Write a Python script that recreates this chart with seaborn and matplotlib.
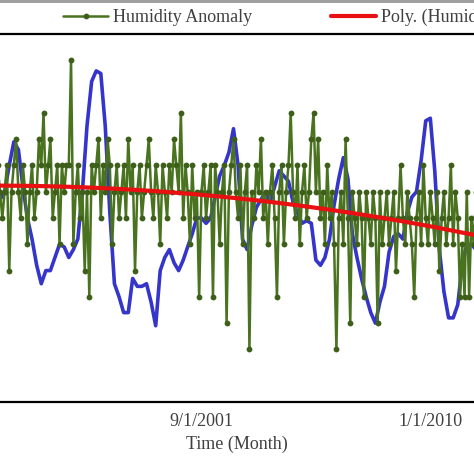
import numpy as np
import pandas as pd
import matplotlib
matplotlib.use('Agg')
import matplotlib.pyplot as plt
import matplotlib.patches as patches
import seaborn as sns

sns.set_style('white')
plt.rcParams['font.family'] = ['Liberation Serif', 'DejaVu Serif']

# monthly humidity anomaly, starting March 1994
humidity = [
    0, 1, 0, -1, 0, 1, -3, 0, 1, 2,
    0, -1, 1, 0, -2, 0, 1, -1, 0, 2,
    1, 3, 0, 1, 2, -1, 0, 1, -2, 1,
    0, 1, 1, 5, -2, 0, 1, -1, 0, -3,
    0, -4, 1, 0, 1, 2, -1, 1, 0, 2,
    1, -2, 0, 1, -1, 0, 1, -1, 2, 0,
    1, -3, 0, 1, -1, 0, 1, 2, 0, -1,
    1, 0, -2, 1, 0, -1, 1, 0, 2, 1,
    0, 3, -1, 1, 0, -2, 1, -1, 0, -4,
    0, 1, -1, 0, 1, -4, 1, 0, -2, 0,
    1, -5, 0, 1, 2, 0, -1, 1, -2, 0,
    1, -6, 0, -1, 1, 0, 2, -1, 0, -2,
    0, 1, -1, -4, 0, 1, -2, 0, 1, 3,
    0, -1, 1, -2, 0, 1, -1, 0, 2, 3,
    0, 2, -1, 0, -2, 1, -1, 0, -2, -6,
    -1, 0, -2, 2, -1, -5, 0, -1, -2, 0,
    -1, -4, 0, -1, -2, 0, -1, -5, 0, -2,
    -1, 0, -2, -1, 0, -3, -1, 1, -1, -2,
    0, -1, -2, -4, -1, 0, -2, 1, -1, -2,
    0, -1, -2, 0, -3, -1, 0, -2, -1, 1,
    -2, 0, -1, -4, -2, -4, 0, -4, -1, -2,
    0, -1,
]

# smoothed series, every second month from March 1994
smooth = [
    -0.3, -0.3, 0.0, 1.0, 1.9, 1.6, 0.2, -1.0, -1.8, -2.8,
    -3.5, -3.0, -3.0, -2.5, -2.0, -2.1, -2.5, -2.2, -1.8, 0.0,
    2.5, 4.2, 4.6, 4.5, 2.5, -0.8, -3.5, -4.0, -4.6, -4.6,
    -3.3, -3.6, -3.6, -3.5, -4.2, -5.1, -3.0, -2.5, -2.2, -2.7,
    -3.0, -2.6, -2.1, -1.6, -1.0, -1.0, -1.2, -1.0, -0.2, 0.6,
    1.0, 1.5, 2.4, 1.0, -1.8, -2.2, -1.3, -0.6, -0.3, 0.0,
    -0.4, 0.2, 0.8, 0.6, 0.4, -0.4, -0.8, -1.2, -1.1, -1.2,
    -2.6, -2.8, -2.5, -1.8, -0.5, 0.5, 1.3, 0.5, -1.6, -2.5,
    -3.3, -4.0, -4.6, -5.0, -4.2, -3.6, -2.3, -1.7, -1.6, -1.8,
    -0.8, -0.2, 0.0, 1.2, 2.7, 2.8, 0.8, -2.2, -3.8, -4.8,
    -4.8, -4.3, -2.8, -2.0, -2.0, -2.2,
]

tick_dates = ['1993-05-01', '2001-09-01', '2010-01-01']
tick_labels = ['5/1/1993', '9/1/2001', '1/1/2010']

dates = pd.date_range('1994-03-01', periods=len(humidity), freq='MS')
df = pd.DataFrame({'date': dates, 'hum': humidity})
df_s = pd.DataFrame({'date': pd.date_range('1994-03-01', periods=len(smooth), freq='2MS'),
                     'val': smooth})

# polynomial trend
t = np.arange(len(humidity))
coef = np.polyfit(t, humidity, 2)
df['trend'] = np.polyval(coef, t)

fig = plt.figure(figsize=(4.74, 4.74), dpi=100)
ax = fig.add_axes([0, 0.152, 1, 0.776])

sns.lineplot(data=df_s, x='date', y='val', ax=ax, color='#3535cc', lw=2.6, label='_b')
sns.lineplot(data=df, x='date', y='hum', ax=ax, color='#4a7320', lw=1.8,
             marker='o', markersize=4.2, markeredgewidth=0, markerfacecolor='#3d5f1a',
             label='Humidity Anomaly')
sns.lineplot(data=df, x='date', y='trend', ax=ax, color='#e81010', lw=3,
             label='Poly. (Humidity Anomaly)')

ax.set_yticks([])
ax.set_xticks(pd.to_datetime(tick_dates))
ax.set_xticklabels(tick_labels, fontsize=13, color='#404040')
ax.set_xlim(pd.Timestamp('1994-05-01'), pd.Timestamp('2011-08-05'))
ax.set_ylim(-8, 6)
ax.tick_params(axis='x', length=0, pad=8)
ax.set_xlabel('Time (Month)', fontsize=13, color='#404040', labelpad=4)
ax.set_ylabel('')
for s in ['left', 'right']:
    ax.spines[s].set_visible(False)
for s in ['top', 'bottom']:
    ax.spines[s].set_linewidth(1.6)
    ax.spines[s].set_color('black')

ax.get_legend().remove()
h, l = ax.get_legend_handles_labels()
h = [x for x, y in zip(h, l) if not y.startswith('_')]
l = [y for y in l if not y.startswith('_')]
fig.legend(h, l, loc='center left', bbox_to_anchor=(0.133, 0.963), ncol=2,
           frameon=False, fontsize=13, handlelength=2.5, handletextpad=0.25,
           columnspacing=4.4, borderpad=0, borderaxespad=0, labelcolor='#404040')

fig.add_artist(patches.Rectangle((0, 0.993), 1, 0.007, transform=fig.transFigure,
                                 color='#a0a0a0', lw=0))

fig.savefig('out.png', dpi=100)
